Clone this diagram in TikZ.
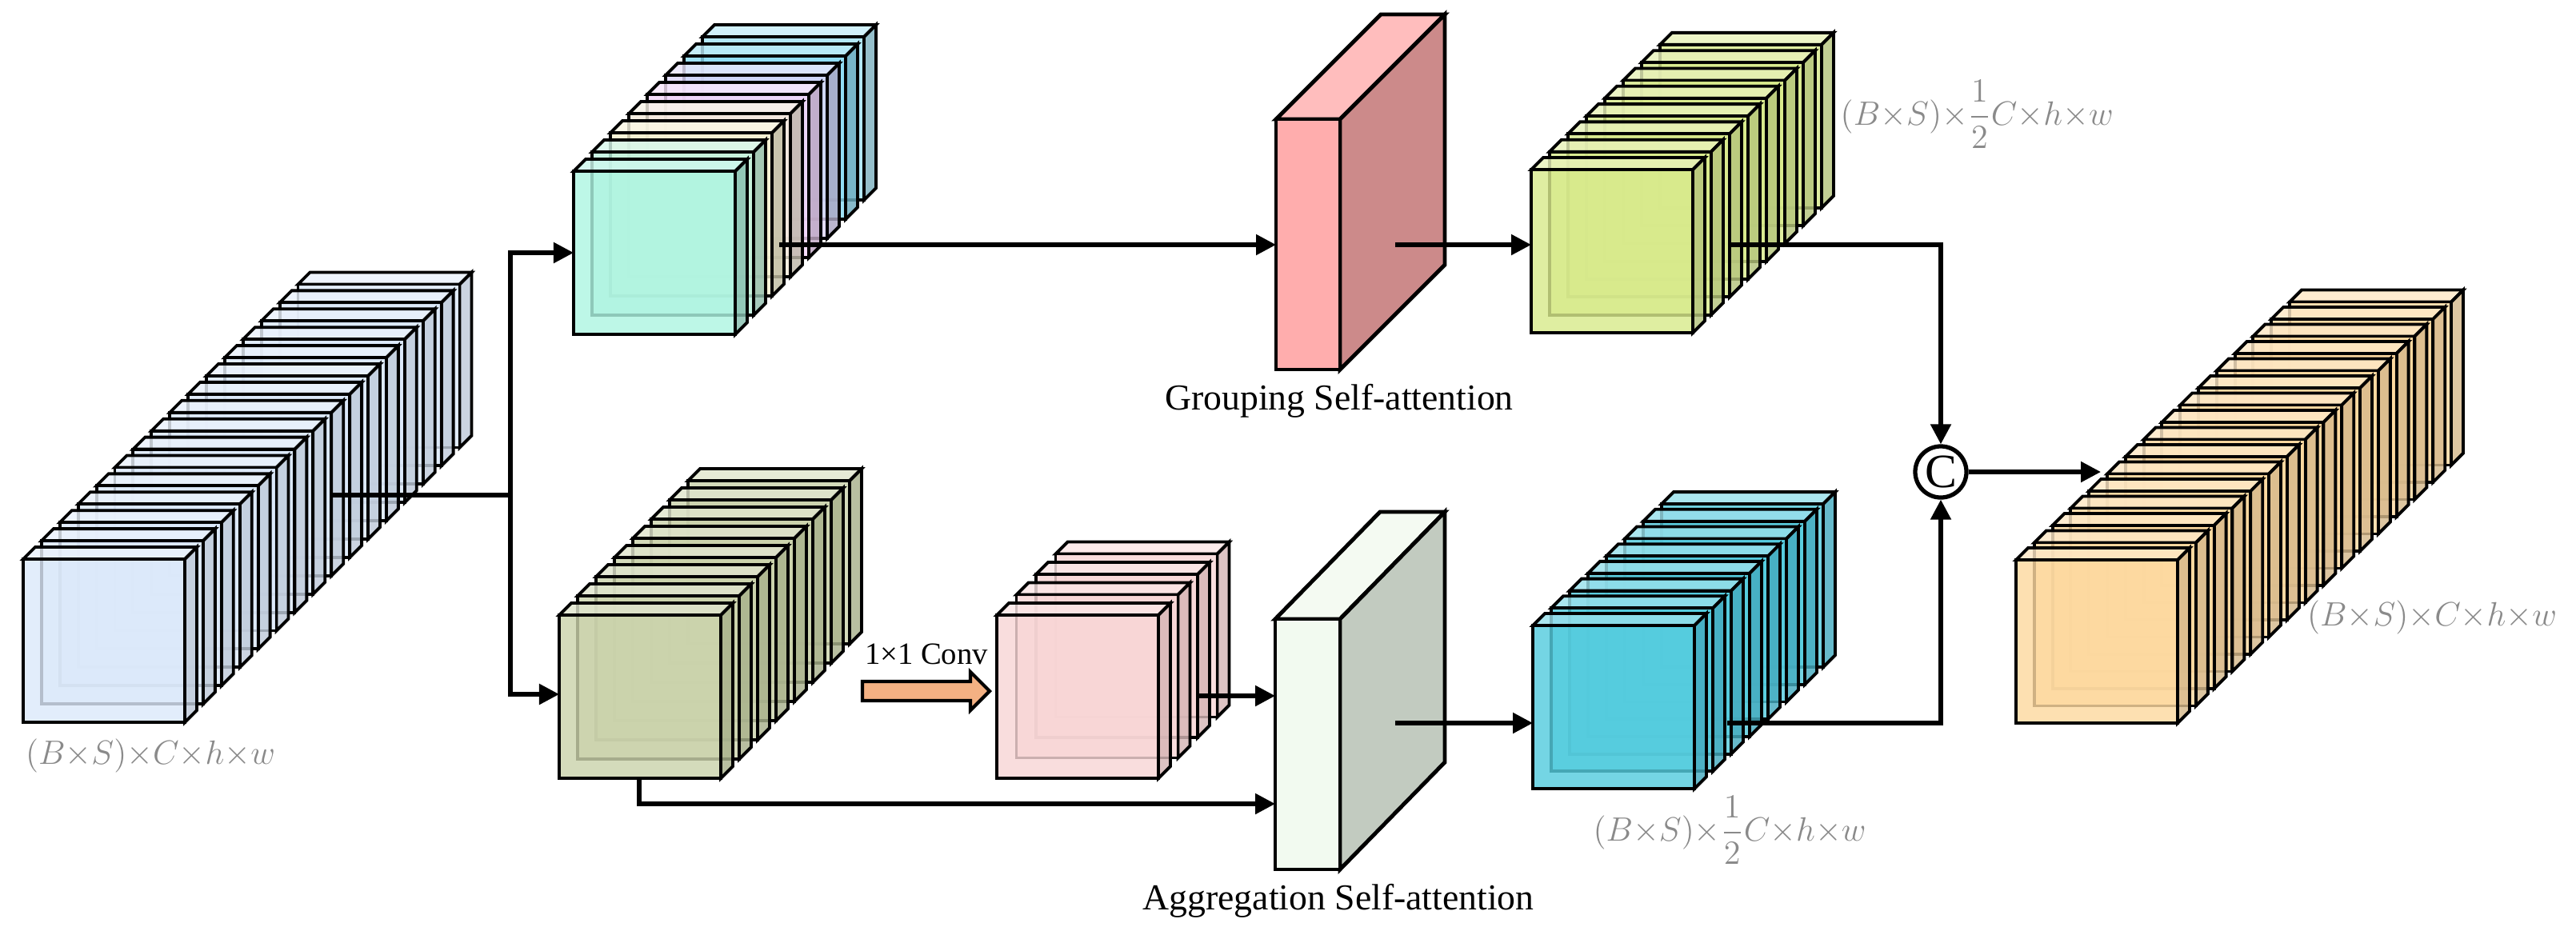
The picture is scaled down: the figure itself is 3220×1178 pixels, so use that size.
\documentclass[tikz,border=0pt]{standalone}
\usepackage{fontspec}
\setmainfont{Liberation Serif}
\usetikzlibrary{arrows.meta}
\definecolor{gr}{HTML}{8A8A8A}
\tikzset{
 slabst/.style={draw=black,line width=1.1pt,line join=miter,fill opacity=0.82},
 conn/.style={line width=1.5pt},
 arr/.style={conn,-{Triangle[length=0.25cm,width=0.25cm]}},
 dimlabel/.style={text=gr,font=\fontsize{12.3}{14}\selectfont,inner sep=0pt},
 blklabel/.style={font=\fontsize{13}{15}\selectfont,inner sep=0pt},
 boxst/.style={draw=black,line width=1.4pt},
}
\newcommand{\slab}[4]{%
 \filldraw[slabst,fill=#3!60!white] (#1,#2) -- ++(15,-15) -- ++(202,0) -- ++(-15,15) -- cycle;
 \filldraw[slabst,fill=#4] (#1+202,#2) -- ++(15,-15) -- ++(0,204) -- ++(-15,15) -- cycle;
 \filldraw[slabst,fill=#3] (#1,#2) rectangle ++(202,204);
}
\newcommand{\tx}{{\times}}
\definecolor{inF}{HTML}{DCE9FA}\definecolor{inS}{HTML}{BFCBDA}
\definecolor{orF}{HTML}{FDD9A0}\definecolor{orS}{HTML}{D6B98C}
\definecolor{ygF}{HTML}{D8EA8C}\definecolor{ygS}{HTML}{B5C57C}
\definecolor{blF}{HTML}{55CCDE}\definecolor{blS}{HTML}{45ABBF}
\definecolor{olF}{HTML}{CBD3AC}\definecolor{olS}{HTML}{A8B18C}
\definecolor{pkF}{HTML}{F8D6D6}\definecolor{pkS}{HTML}{D6B6B6}
\definecolor{c0}{HTML}{AEF5E2}\definecolor{c1}{HTML}{BDF3DE}
\definecolor{c2}{HTML}{F6F2D0}\definecolor{c3}{HTML}{F5ECDA}
\definecolor{c4}{HTML}{F5D5FA}\definecolor{c5}{HTML}{DDD5FA}
\definecolor{c6}{HTML}{8ADBF4}\definecolor{c7}{HTML}{A2E3F6}
\definecolor{gT}{HTML}{FFBDBD}\definecolor{gS}{HTML}{CC8A8A}\definecolor{gF}{HTML}{FFADAD}
\definecolor{aT}{HTML}{F4FAF2}\definecolor{aS}{HTML}{C2CBC0}\definecolor{aF}{HTML}{F2FAF0}
\definecolor{cvF}{HTML}{F4B183}
\begin{document}
\begin{tikzpicture}[x=0.01cm,y=-0.01cm]
\useasboundingbox (0,0) rectangle (3220,1178);
% input stack
\foreach \i in {15,...,0}{\slab{29+\i*22.9}{699-\i*22.9}{inF}{inS}}
% top stack
\foreach \i in {7,...,0}{\slab{717+\i*23}{214-\i*24}{c\i}{c\i!78!black}}
% olive stack
\foreach \i in {7,...,0}{\slab{699+\i*23}{769-\i*24}{olF}{olS}}
% pink stack
\foreach \i in {3,...,0}{\slab{1246+\i*24.5}{769-\i*25.5}{pkF}{pkS}}
% yellow-green stack
\foreach \i in {7,...,0}{\slab{1914+\i*23}{212-\i*22.3}{ygF}{ygS}}
% blue stack
\foreach \i in {7,...,0}{\slab{1916+\i*23}{782-\i*21.7}{blF}{blS}}
% orange stack
\foreach \i in {15,...,0}{\slab{2520+\i*22.8}{700-\i*21.5}{orF}{orS}}
% grouping SA box
\filldraw[boxst,fill=gT] (1595,149) -- (1726,18) -- (1806,18) -- (1675,149) -- cycle;
\filldraw[boxst,fill=gS] (1675,149) -- (1806,18) -- (1806,331) -- (1675,462) -- cycle;
\filldraw[boxst,fill=gF] (1595,149) rectangle (1675,462);
% aggregation SA box
\filldraw[boxst,fill=aT] (1594,774) -- (1725,640) -- (1806,640) -- (1675,774) -- cycle;
\filldraw[boxst,fill=aS] (1675,774) -- (1806,640) -- (1806,953) -- (1675,1087) -- cycle;
\filldraw[boxst,fill=aF] (1594,774) rectangle (1675,1087);
% coordinates
\coordinate (inO) at (415,619);
\coordinate (j) at (638,619);
\coordinate (topI) at (717,316);
\coordinate (olI) at (699,868);
\coordinate (topO) at (974,306);
\coordinate (gsaI) at (1595,306);
\coordinate (gsaO) at (1744,306);
\coordinate (ygI) at (1914,306);
\coordinate (ygO) at (2163,306);
\coordinate (olB) at (799,973);
\coordinate (asaI2) at (1594,1005);
\coordinate (pkO) at (1497,870);
\coordinate (asaI1) at (1594,870);
\coordinate (asaO) at (1744,904);
\coordinate (blI) at (1916,904);
\coordinate (blO) at (2159,904);
\coordinate (orI) at (2626,590);
\node[circle,draw,line width=1.5pt,fill=white,minimum size=0.64cm,inner sep=0pt,font=\fontsize{17}{17}\selectfont] (cat) at (2426,590) {C};
% connectors
\draw[conn] (inO) -- (j);
\draw[arr] (j) |- (topI);
\draw[arr] (j) |- (olI);
\draw[arr] (topO) -- (gsaI);
\draw[arr] (gsaO) -- (ygI);
\draw[arr] (ygO) -| (cat.north);
\draw[arr] (blO) -| (cat.south);
\draw[arr] (cat.east) -- (orI);
\draw[arr] (pkO) -- (asaI1);
\draw[arr] (olB) |- (asaI2);
\draw[arr] (asaO) -- (blI);
% 1x1 conv fat arrow
\filldraw[draw=black,line width=1.2pt,fill=cvF] (1078,852) -- (1213,852) -- (1213,840) -- (1237,864) -- (1213,888) -- (1213,876) -- (1078,876) -- cycle;
\node[font=\fontsize{11}{13}\selectfont,inner sep=0pt] (conv) at (1158,818) {1×1 Conv};
% labels
\node[blklabel] (gl) at (1674,501) {Grouping Self-attention};
\node[blklabel] (al) at (1673,1126) {Aggregation Self-attention};
\node[dimlabel] (l1) at (188,945) {$(B\tx S)\tx C\tx h\tx w$};
\node[dimlabel,anchor=west] (l2) at (2300,143) {$(B\tx S)\tx\displaystyle\frac{1}{2}C\tx h\tx w$};
\node[dimlabel] (l3) at (2162,1038) {$(B\tx S)\tx\displaystyle\frac{1}{2}C\tx h\tx w$};
\node[dimlabel] (l4) at (3040,772) {$(B\tx S)\tx C\tx h\tx w$};
\end{tikzpicture}
\end{document}
